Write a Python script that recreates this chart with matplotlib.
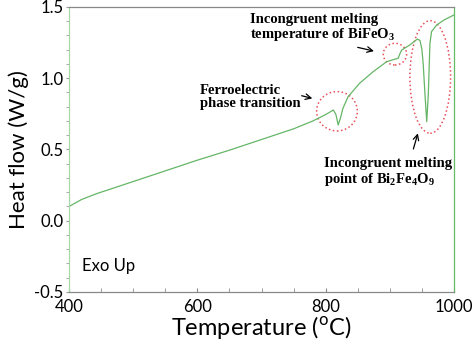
import matplotlib
matplotlib.use("Agg")
import matplotlib.pyplot as plt
from matplotlib.patches import Ellipse
from matplotlib.ticker import MultipleLocator

plt.rcParams["mathtext.fontset"] = "custom"
plt.rcParams["mathtext.rm"] = "Liberation Serif:bold"
plt.rcParams["mathtext.sf"] = "Lato"

# DSC trace
temperature = [400, 420, 443, 500, 550, 600, 650, 700, 750, 780, 800, 812, 816,
               819.5, 823, 827, 835, 853, 874, 895, 905, 913, 916, 918.5, 931,
               943, 947, 950, 952, 955, 957.5, 960, 962.5, 965, 973, 985, 1000]
heat_flow = [0.10, 0.15, 0.19, 0.275, 0.35, 0.425, 0.495, 0.57, 0.645, 0.70, 0.745,
             0.777, 0.745, 0.672, 0.72, 0.79, 0.871, 0.965, 1.046, 1.116, 1.13,
             1.14, 1.175, 1.198, 1.233, 1.275, 1.265, 1.20, 1.10, 0.87, 0.695, 0.89,
             1.245, 1.327, 1.374, 1.41, 1.444]

x_ticks = [400, 600, 800, 1000]
y_ticks = [-0.5, 0.0, 0.5, 1.0, 1.5]

sans = ["Lato", "DejaVu Sans"]
serif = ["Liberation Serif", "DejaVu Serif"]

fig = plt.figure(figsize=(4.74, 3.44), dpi=100)
ax = fig.add_axes([0.1456, 0.1512, 0.8122, 0.8285])

ax.plot(temperature, heat_flow, color="#66b566", lw=0.9)

ax.set_xlim(400, 1000)
ax.set_ylim(-0.5, 1.5)
ax.set_xticks(x_ticks)
ax.set_yticks(y_ticks)
ax.set_yticklabels([f"{v:.1f}" for v in y_ticks], family=sans, fontsize=12)
ax.set_xticklabels([str(v) for v in x_ticks], family=sans, fontsize=12)
ax.xaxis.set_minor_locator(MultipleLocator(50))
ax.yaxis.set_minor_locator(MultipleLocator(0.1))
ax.tick_params(axis="x", which="both", direction="in", length=3, color="#888888", pad=5)
ax.tick_params(axis="y", which="both", direction="out", length=2, color="#999999", pad=2)

for side in ["top", "bottom"]:
    ax.spines[side].set_color("#888888")
ax.spines["left"].set_color("#a8d8a8")
ax.spines["right"].set_color("#66bb66")
for s in ax.spines.values():
    s.set_linewidth(0.9)

ax.set_xlabel("Temperature ($^\\mathsf{o}$C)", family=sans, fontsize=17, labelpad=-1)
ax.set_ylabel("Heat flow (W/g)", family=sans, fontsize=16, labelpad=4)

# dotted rings around the three thermal events
ring = dict(fill=False, ls=":", lw=1.1, ec="#e8505a")
ax.add_patch(Ellipse((817.6, 0.768), 63.4, 0.276, **ring))
ax.add_patch(Ellipse((908, 1.169), 36.4, 0.152, **ring))
ax.add_patch(Ellipse((963, 1.009), 63.4, 0.79, **ring))

note = dict(family=serif, fontweight="bold", fontsize=10.5, va="top", ha="left",
            linespacing=1.05)
ax.text(682, 1.46, "Incongruent melting\ntemperature of BiFeO$_3$", **note)
ax.text(604, 0.96, "Ferroelectric\nphase transition", **note)
ax.text(797, 0.445, "Incongruent melting\npoint of Bi$_2$Fe$_4$O$_9$", **note)

arrow = dict(arrowstyle="->", color="black", lw=0.9)
ax.annotate("", xy=(783.4, 0.854), xytext=(758.4, 0.882), arrowprops=arrow)
ax.annotate("", xy=(879.5, 1.186), xytext=(845.7, 1.221), arrowprops=arrow)
ax.annotate("", xy=(944.9, 0.632), xytext=(935.5, 0.485), arrowprops=arrow)

ax.text(420, -0.315, "Exo Up", family=sans, fontsize=12, va="center", ha="left")

fig.savefig("out.png", dpi=100)
